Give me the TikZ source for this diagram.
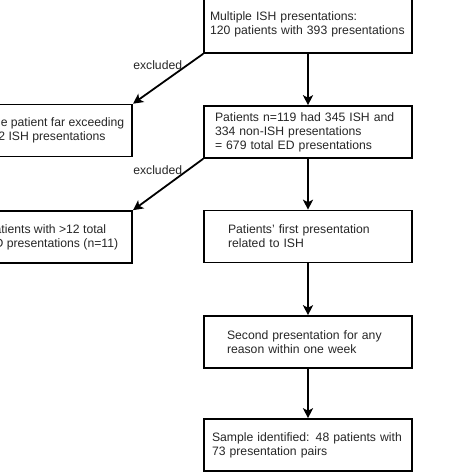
\documentclass[tikz,border=0pt]{standalone}
\usepackage{fontspec}
\setmainfont{Liberation Sans}
\usetikzlibrary{arrows.meta}

\begin{document}
\begin{tikzpicture}[x=1pt, y=-1pt,
    caixa/.style={draw, line width=1.6pt, minimum height=52pt, align=left,
      text=black!85, font=\fontsize{12.2}{14}\selectfont},
    seta/.style={line width=1.8pt, -{Stealth[length=10pt, width=10pt, inset=2.5pt]}},
    rotulo/.style={text=black!85, font=\fontsize{12.2}{14}\selectfont, inner sep=0pt}]
  % Área visível
  \useasboundingbox (0,0) rectangle (474,474);
  \clip (0,0) rectangle (474,474);
  % Caixas principais
  \node[caixa, minimum height=57pt, inner xsep=6pt, text width=196pt] (multiplas) at (308,24.5)
    {Multiple ISH presentations:\\120 patients with 393 presentations};
  \node[caixa, inner xsep=11pt, text width=186pt] (pacientes) at (308,132)
    {Patients n=119 had 345 ISH and\\334 non-ISH presentations\\= 679 total ED presentations};
  \node[caixa, inner xsep=24pt, text width=160pt] (primeira) at (308,236.5)
    {Patients' first presentation\\related to ISH};
  \node[caixa, inner xsep=23pt, text width=162pt] (segunda) at (308,342)
    {Second presentation for any\\reason within one week};
  \node[caixa, inner xsep=8pt, text width=192pt] (amostra) at (308,445)
    {Sample identified: 48 patients with\\73 presentation pairs};
  % Caixas de exclusão
  \node[caixa, inner xsep=8pt, anchor=east] (umpaciente) at (133,130.5)
    {One patient far exceeding\\>12 ISH presentations};
  \node[caixa, inner xsep=14pt, anchor=east] (acima) at (133,237)
    {Patients with >12 total\\ED presentations (n=11)};
  % Setas
  \draw[seta] (multiplas) -- (pacientes);
  \draw[seta] (pacientes) -- (primeira);
  \draw[seta] (primeira) -- (segunda);
  \draw[seta] (segunda) -- (amostra);
  \draw[seta] (multiplas.south west) -- node[rotulo, pos=0.33, anchor=south east, xshift=3pt] (exclusao1) {excluded} (umpaciente.north east);
  \draw[seta] (pacientes.south west) -- node[rotulo, pos=0.33, anchor=south east, xshift=3pt] (exclusao2) {excluded} (acima.north east);
\end{tikzpicture}
\end{document}
